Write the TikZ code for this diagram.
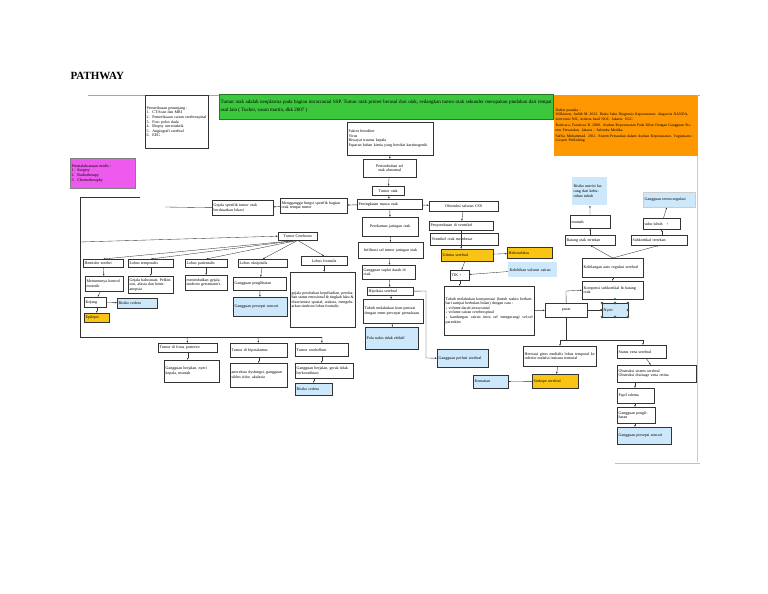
\documentclass[tikz,border=0pt]{standalone}
\usepackage{fontspec}
\setmainfont{Liberation Serif}
\usetikzlibrary{arrows.meta}
\definecolor{grn}{RGB}{60,200,60}
\definecolor{lb}{RGB}{205,232,250}
\definecolor{yl}{RGB}{250,196,20}
\definecolor{org}{RGB}{255,152,0}
\definecolor{mag}{RGB}{238,90,238}
\tikzset{bx/.style={draw=black!80,line width=0.35pt,inner sep=1.5pt,align=left,font=\fontsize{4}{4.6}\selectfont},
 ar/.style={line width=0.35pt,draw=black!80,-{Latex[length=2pt,width=1.6pt]}},
 ln/.style={line width=0.35pt,draw=black!80}}
\newcommand\B[7]{\pgfmathsetmacro\bw{#5-#3}\pgfmathsetmacro\bh{#6-#4}\pgfmathsetmacro\tw{#5-#3-3}\node[bx,#2,anchor=north west,minimum width=\bw pt,minimum height=\bh pt,text width=\tw pt] (#1) at (#3,#4) {#7};}
\begin{document}
\begin{tikzpicture}[x=1pt,y=-1pt]
\useasboundingbox (0,0) rectangle (768,594);
\node[anchor=west,font=\bfseries\fontsize{11}{12}\selectfont] (title) at (67,76) {PATHWAY};
\draw[gray!70,line width=0.6pt] (88,95) -- (700,95);
\draw[cyan!40,line width=0.5pt] (697,95) -- (697,462);
\draw[gray!50,line width=0.6pt] (615,463) -- (700,463);
% top info
\B{pen}{}{145}{95}{208}{148}{Pemeriksaan penunjang :\\1.\ \ CT-Scan dan MRI\\2.\ \ Pemeriksaan cairan serebrospinal\\3.\ \ Foto polos dada\\4.\ \ Biopsy stereotaktik\\5.\ \ Angiografi serebral\\6.\ \ EEG}
\B{def}{fill=grn,draw=grn!60!black,align=justify,font=\fontsize{5}{8}\selectfont}{219}{94}{553}{119}{Tumor otak adalah neoplasma pada bagian intracranial SSP. Tumor otak primer berasal dari otak, sedangkan tumor otak sekunder merupakan pindahan dari tempat asal lain ( Tucker, susan martin, dkk 2007 )}
\B{dp}{fill=org,draw=org,font=\fontsize{3.8}{4.4}\selectfont}{554}{96}{697}{155}{Daftar pustaka :\\Wilkinson, Judith M. 2012. Buku Saku Diagnosis Keperawatan: diagnosis NANDA, intervensi NIC, kriteria hasil NOC. Jakarta: EGC\\[2pt]Batticaca, Fransisca B. 2008. Asuhan Keperawatan Pada Klien Dengan Gangguan Sistem Persarafan. Jakarta : Salemba Medika\\[2pt]Saffia, Muhammad. 2011. Sistem Persarafan dalam Asuhan Keperawatan. Yogyakarta : Gosyen Publishing}
\B{med}{fill=mag,draw=gray}{70}{158}{135}{188}{Penatalaksanaan medis :\\1.\ \ Surgery\\2.\ \ Radiotherapy\\3.\ \ Chemotheraphy}
% center column
\B{fak}{}{347}{122}{433}{155}{Faktor herediter\\Virus\\Riwayat trauma kepala\\Paparan bahan kimia yang bersifat karsinogenik}
\B{per}{align=center}{363}{159}{416}{177}{Pertumbuhan sel otak abnormal}
\B{tot}{align=center}{372}{186}{404}{195}{Tumor otak}
\B{pm}{}{357}{199}{422}{209}{Peningkatan massa otak}
\B{mf}{}{280}{198}{347}{213}{Mengganggu fungsi spesifik bagian otak tempat tumor}
\B{gs}{}{212}{200}{273}{215}{Gejala spesifik tumor otak berdasarkan lokasi}
\B{obs}{align=center}{429}{201}{498}{211}{Obstruksi saluran CSS}
\B{pny}{}{429}{221}{493}{230}{Penyumbatan di ventrikel}
\B{vom}{}{430}{233}{498}{245}{Ventrikel otak membesar}
\B{ede}{fill=yl}{441}{249}{493}{261}{Udema serebral}
\B{hid}{fill=yl}{507}{247}{552}{258}{Hidrosefalus}
\B{tik}{}{450}{270}{469}{280}{TIK ↑}
\B{kel}{fill=lb,draw=none}{508}{262}{557}{277}{Kelebihan volume cairan}
\B{tk}{align=justify}{444}{286}{534}{335}{Tubuh melakukan kompensasi (butuh waktu berhari-hari sampai berbulan-bulan) dengan cara :\\↓ volume darah intracranial\\↓ volume cairan cerebrospinal\\↓ kandungan cairan intra sel mengurangi sel-sel parenkim}
\B{puc}{align=center}{545}{303}{587}{317}{pucat}
\B{ny}{fill=lb}{602}{303}{628}{317}{Nyeri}
\foreach \p in {(602,303),(615,303),(628,303),(602,310),(628,310),(602,317),(615,317),(628,317)} \draw[line width=0.3pt,fill=white] \p circle (1.2);
\fill[green!60!black] (615,299) circle (1.2);
\B{kom}{}{582}{281}{643}{299}{Kompensi subkortikal \& batang otak}
\B{kar}{}{582}{258}{643}{277}{Kehilangan auto regulasi serebral}
\B{bat}{}{565}{235}{615}{245}{Batang otak tertekan}
\B{sub}{}{631}{235}{687}{245}{Subkortikal tertekan}
\B{mun}{}{570}{215}{610}{228}{muntah}
\B{suh}{}{643}{218}{680}{229}{suhu tubuh\ \ \ ↑}
\B{rn}{fill=lb,draw=none}{572}{177}{607}{205}{Risiko nutrisi kurang dari kebutuhan tubuh}
\B{gt}{fill=lb,draw=gray!40}{643}{192}{695}{207}{Gangguan termo-regulasi}
\B{prk}{align=center}{362}{217}{418}{236}{Perekaman jaringan otak}
\B{inf}{align=center}{358}{242}{423}{258}{Infiltrasi sel tumor jaringan otak}
\B{sup}{}{362}{265}{415}{279}{Gangguan suplai darah di otak}
\B{hip}{}{367}{287}{413}{295}{Hipoksia serebral}
\B{tk2}{}{363}{299}{423}{323}{Tubuh melakukan kom-pensasi dengan mem-percepat pernafasan}
\B{pol}{fill=lb}{365}{327}{418}{349}{Pola nafas tidak efektif}
\B{gpf}{fill=lb}{437}{349}{488}{367}{Gangguan perfusi serebral}
% left block
\B{tc}{align=center}{278}{232}{317}{240}{Tumor Cerebrum}
\B{hem}{}{83}{259}{123}{267}{Hemisfer serebri}
\B{lt}{}{128}{259}{173}{267}{Lobus temporalis}
\B{lp}{}{185}{259}{227}{267}{Lobus parientalis}
\B{lo}{}{238}{259}{287}{267}{Lobus oksipitalis}
\B{lf}{align=center}{301}{256}{347}{265}{Lobus frontalis}
\B{mk}{}{85}{276}{123}{291}{Menurunnya kontrol motorik}
\B{kej}{}{84}{297}{106}{307}{Kejang}
\B{rc}{fill=lb}{117}{298}{157}{308}{Risiko cedera}
\B{epi}{fill=yl}{84}{313}{109}{322}{Epilepsi}
\B{gh}{}{128}{276}{173}{293}{Gejala halusinasi, Pelkinson, afasia dan hemianopsia}
\B{sg}{}{185}{275}{227}{290}{menimbulkan gejala sindrom gerstmann's}
\B{gpl}{}{233}{277}{286}{290}{Gangguan penglihatan}
\B{gps}{fill=lb}{233}{297}{287}{316}{Gangguan persepsi sensori}
\B{lft}{align=justify}{290}{272}{355}{327}{gejala perubahan kepribadian, perubahan status emosional \& tingkah laku \& disorientasi spasial, ataksia, mengeluarkan sindrom lobus frontalis}
\B{tfp}{}{158}{343}{217}{352}{Tumor di fossa posterior}
\B{gb1}{}{164}{360}{219}{382}{Gangguan berjalan, nyeri kepala, muntah}
\B{thp}{}{230}{343}{287}{357}{Tumor di hipotalamus}
\B{ano}{}{230}{363}{287}{387}{anoreksia dysfungsi, gangguan siklus tidur, akalasia}
\B{tcb}{}{295}{343}{348}{356}{Tumor cerebellum}
\B{gb2}{}{295}{363}{353}{378}{Gangguan berjalan, gerak tidak berkoordinasi}
\B{rc2}{fill=lb}{295}{383}{332}{395}{Risiko cedera}
% right bottom
\B{her}{align=justify}{523}{346}{596}{366}{Herniasi girus medialis lobus temporal ke inferior melalui insisura tentorial}
\B{sin}{fill=yl}{532}{374}{578}{388}{Sinkope serebral}
\B{kem}{fill=lb}{473}{375}{508}{388}{Kematian}
\B{svs}{}{617}{345}{666}{358}{Status vena serebral}
\B{osr}{}{617}{365}{696}{382}{Obstruksi sistem serebral\\Obstruksi drainage vena retina}
\B{pap}{}{617}{388}{654}{403}{Papil edema}
\B{gpn}{}{617}{407}{655}{423}{Gangguan penglihatan}
\B{gpr}{fill=lb}{617}{427}{671}{444}{Gangguan persepsi sensori}
% connectors center
\draw[ar] (fak) -- (per); \draw[ar] (per) -- (tot); \draw[ar] (tot) -- (pm);
\draw[ar] (pm) -- (mf); \draw[ar] (mf) -- (gs); \draw[ar] (pm) -- (obs);
\draw[ar] (obs) -- (pny); \draw[ar] (pny) -- (ede.north -| pny) ; 
\draw[ar] (ede) -- (tik); \draw[ar] (ede) -- (hid); \draw[ar] (kel) -- (tik);
\draw[ar] (tik) -- (tik |- tk.north);
\draw[ar] (pm) -- (prk); \draw[ar] (prk) -- (inf); \draw[ar] (inf) -- (sup);
\draw[ar] (sup) -- (hip); \draw[ar] (hip) -- (tk2); \draw[ar] (tk2) -- (pol);
\draw[ar] (hip.east) -- (426,291) -- (426,358) -- (gpf.west);
\draw[ar] (tk) -- (puc); \draw[ar] (puc) -- (ny);
\draw[ar] (puc.north) -- (566,291) -- (kom.west);
\draw[ar] (kar) -- (kom);
\draw[ar] (kar.north) -- (bat.south); \draw[ar] (kar.north) -- (sub.south);
\draw[ar] (bat) -- (mun); \draw[ar] (mun) -- (rn);
\draw[ar] (sub.north -| suh) -- (suh); \draw[ar] (suh) -- (gt);
\draw[ln] (566,317) -- (566,340); \draw[ln] (560,340) -- (643,340);
\draw[ar] (560,340) -- (her.north -| 560,0); \draw[ar] (643,340) -- (svs.north -| 643,0);
\draw[ar] (her) -- (sin); \draw[ar] (sin) -- (kem);
\draw[ar] (svs) -- (osr); \draw[ar] (osr.south -| 635,0) -- (pap.north -| 635,0);
\draw[ar] (pap.south -| 635,0) -- (gpn.north -| 635,0); \draw[ar] (gpn.south -| 635,0) -- (gpr.north -| 635,0);
% left frame
\draw[ln] (gs.west) -- (165,207); \draw[ln] (140,197) -- (80,197) -- (80,337) -- (322,337);
\draw[ar] (80,242) -- (tc.west);
\draw[ar] (187,337) -- (tfp); \draw[ar] (258,337) -- (thp); \draw[ar] (322,337) -- (tcb);
\foreach \n in {hem,lt,lp,lo,lf} \draw[ar] (tc.south) -- (\n.north);
\draw[ar] (hem) -- (mk); \draw[ar] (mk) -- (kej); \draw[ar] (kej) -- (rc); \draw[ar] (kej.south -| epi.north) -- (epi);
\draw[ar] (lt) -- (gh); \draw[ar] (lp) -- (sg); \draw[ar] (lo) -- (gpl); \draw[ar] (gpl) -- (gps);
\draw[ar] (lf) -- (lft.north -| lf);
\draw[ar] (tfp) -- (tfp.south |- gb1.north); \draw[ar] (thp) -- (thp.south |- ano.north);
\draw[ar] (tcb) -- (tcb.south |- gb2.north); \draw[ar] (gb2.south -| rc2) -- (rc2);
\end{tikzpicture}
\end{document}
